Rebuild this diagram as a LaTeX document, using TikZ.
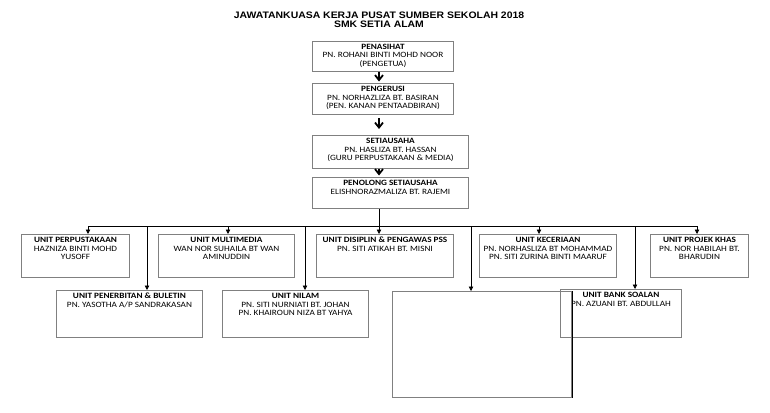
\documentclass[tikz,border=0pt]{standalone}
\usepackage{fontspec}
\usetikzlibrary{arrows.meta}
\newfontfamily\titlefont[FakeStretch=1.11]{Liberation Sans}
\newfontfamily\boxfont[FakeStretch=1.14]{Carlito}
\definecolor{boxgray}{RGB}{128,128,128}
\newcommand{\boxtext}[3]{\parbox[t][#2][t]{#1}{\centering\rule{0pt}{7.8pt}#3}}

\begin{document}
\begin{tikzpicture}[x=1pt, y=-1pt,
    unitbox/.style={draw=boxgray, line width=1pt, inner sep=0pt, anchor=north west,
      font=\boxfont\fontsize{8.1}{8.7}\selectfont},
    headline/.style={anchor=base, font=\titlefont\bfseries\fontsize{9.4}{11}\selectfont},
    link/.style={line width=0.8pt, -{Triangle[length=4.5pt,width=4.5pt]}},
    chev/.style={line width=1.1pt, -{Straight Barb[length=5pt,width=8pt,line width=1.8pt]}, shorten >=1.5pt}]
  \useasboundingbox (0,0) rectangle (770,412);

  \draw
  (379,18.5) node[headline](title1) {JAWATANKUASA KERJA PUSAT SUMBER SEKOLAH 2018}
  (379,27.5) node[headline](title2) {SMK SETIA ALAM};

  % top of the chart
  \draw
  (312,41) node[unitbox](penasihat) {\boxtext{141pt}{30pt}{\textbf{PENASIHAT}\\PN. ROHANI BINTI MOHD NOOR\\(PENGETUA)}}
  (312,83) node[unitbox](pengerusi) {\boxtext{141pt}{31pt}{\textbf{PENGERUSI}\\PN. NORHAZLIZA BT. BASIRAN\\(PEN. KANAN PENTAADBIRAN)}}
  (312,135) node[unitbox](setiausaha) {\boxtext{156pt}{33pt}{\textbf{SETIAUSAHA}\\PN. HASLIZA BT. HASSAN\\(GURU PERPUSTAKAAN \& MEDIA)}}
  (312,177) node[unitbox](penolong) {\boxtext{156pt}{31pt}{\textbf{PENOLONG SETIAUSAHA}\\ELISHNORAZMALIZA BT. RAJEMI}};

  % units, first row
  \draw
  (21,234) node[unitbox](perpus) {\boxtext{108pt}{43pt}{\textbf{UNIT PERPUSTAKAAN}\\HAZNIZA BINTI MOHD\\YUSOFF}}
  (158,234) node[unitbox](multimedia) {\boxtext{136pt}{43pt}{\textbf{UNIT MULTIMEDIA}\\WAN NOR SUHAILA BT WAN\\AMINUDDIN}}
  (316,234) node[unitbox](disiplin) {\boxtext{137pt}{43pt}{\textbf{UNIT DISIPLIN \& PENGAWAS PSS}\\PN. SITI ATIKAH BT. MISNI}}
  (479,234) node[unitbox](keceriaan) {\boxtext{137pt}{43pt}{\textbf{UNIT KECERIAAN}\\PN. NORHASLIZA BT MOHAMMAD\\PN. SITI ZURINA BINTI MAARUF}}
  (650,234) node[unitbox](projek) {\boxtext{98pt}{43pt}{\textbf{UNIT PROJEK KHAS}\\PN. NOR HABILAH BT.\\BHARUDIN}};

  % units, second row
  \draw
  (56,290) node[unitbox](penerbitan) {\boxtext{146pt}{47pt}{\textbf{UNIT PENERBITAN \& BULETIN}\\PN. YASOTHA A/P SANDRAKASAN}}
  (222,290) node[unitbox](nilam) {\boxtext{146pt}{47pt}{\textbf{UNIT NILAM}\\PN. SITI NURNIATI BT. JOHAN\\PN. KHAIROUN NIZA BT YAHYA}}
  (560,289) node[unitbox](banksoalan) {\boxtext{121pt}{48pt}{\textbf{UNIT BANK SOALAN}\\PN. AZUANI BT. ABDULLAH}}
  (392,291) node[unitbox, minimum width=179pt, minimum height=106pt](kosong) {};
  \draw[line width=1pt] (kosong.north east) -- (kosong.south east);

  \coordinate (spine) at (379,0);
  \coordinate (b1) at (88,226);
  \coordinate (b2) at (147,226);
  \coordinate (b3) at (228,226);
  \coordinate (b4) at (305,226);
  \coordinate (b6) at (471,226);
  \coordinate (b7) at (539,226);
  \coordinate (b8) at (635,226);
  \coordinate (b9) at (697,226);

  \draw[chev] (penasihat.south -| spine) -- (spine |- pengerusi.north);
  \draw[chev, shorten <=3pt, shorten >=6pt] (pengerusi.south -| spine) -- (spine |- setiausaha.north);
  \draw[chev] (setiausaha.south -| spine) -- (spine |- penolong.north);

  \draw[line width=0.8pt] (b1) -- (b9);
  \draw[link] (penolong.south -| spine) -- (spine |- disiplin.north);
  \draw[link] (b1) -- (b1 |- perpus.north);
  \draw[link] (b2) -- (b2 |- penerbitan.north);
  \draw[link] (b3) -- (b3 |- multimedia.north);
  \draw[link] (b4) -- (b4 |- nilam.north);
  \draw[link] (b6) -- (b6 |- kosong.north);
  \draw[link] (b7) -- (b7 |- keceriaan.north);
  \draw[link] (b8) -- (b8 |- banksoalan.north);
  \draw[link] (b9) -- (b9 |- projek.north);
\end{tikzpicture}
\end{document}
